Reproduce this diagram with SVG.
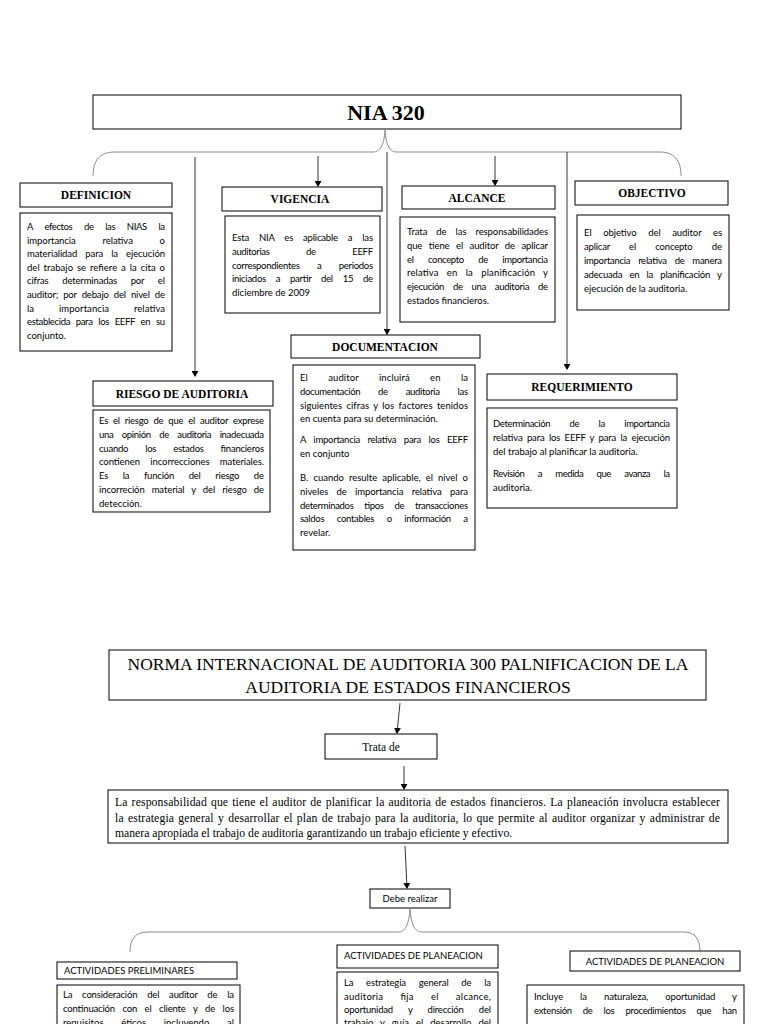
<svg xmlns="http://www.w3.org/2000/svg" width="768" height="1024" viewBox="0 0 768 1024">
<defs>
<marker id="ah" markerUnits="userSpaceOnUse" markerWidth="6" markerHeight="7" refX="5" refY="3.5" orient="auto">
<path d="M0,0 L6,3.5 L0,7 z" fill="#000"/>
</marker>
<style>
.box{fill:#fff;stroke:#000;stroke-width:1}
.hd{font-family:"Liberation Serif",serif;font-weight:bold;font-size:11.5px;text-anchor:middle;fill:#000}
.bt{font-family:Lato,"Liberation Sans",sans-serif;font-size:9.5px;fill:#000}
.r{text-anchor:end}
.m{text-anchor:middle}
.sr{font-family:"Liberation Serif",serif;fill:#000}
.br{fill:none;stroke:#8a8a8a;stroke-width:1}
.ar{fill:none;stroke:#000;stroke-width:0.8;marker-end:url(#ah)}
</style>
</defs>
<rect width="768" height="1024" fill="#fff"/>

<g id="connectors">
<path class="br" d="M93,176 C93,160 100,152 115,152 L373,152 C380,152 384,146 385,130 C386,146 390,152 397,152 L660,152 C674,152 681,160 681,176"/>
<path class="ar" d="M195,157 L195,376"/>
<path class="ar" d="M318,156 L318,186"/>
<path class="ar" d="M387,152 L387,334"/>
<path class="ar" d="M495,156 L495,185"/>
<path class="ar" d="M567,152 L567,369"/>
<path class="ar" d="M400,703 L397,733"/>
<path class="ar" d="M404,766 L404,789"/>
<path class="ar" d="M405,846 L407,888"/>
<path class="br" d="M130,952 C130,939 135,932 148,932 L398,932 C405,932 409,925 410,909 C411,925 415,932 422,932 L684,932 C695,932 700,939 700,952"/>
</g>

<g id="title">
<rect class="box" x="93" y="95" width="588" height="34"/>
<text x="386" y="120" font-family="Liberation Serif, serif" font-weight="bold" font-size="22" text-anchor="middle">NIA 320</text>
</g>

<g id="definicion">
<rect class="box" x="20" y="183" width="152" height="24"/>
<text class="hd" x="96" y="199" font-size="11">DEFINICION</text>
<rect class="box" x="20" y="213" width="152" height="138"/>
<g class="bt">
<text x="27" y="230" word-spacing="9.6" textLength="138">A efectos de las NIAS la</text>
<text x="27" y="243.6" word-spacing="24.4" textLength="138">importancia relativa o</text>
<text x="27" y="257.2" word-spacing="5.7" textLength="138">materialidad para la ejecución</text>
<text x="27" y="270.8" word-spacing="1.4" textLength="138">del trabajo se refiere a la cita o</text>
<text x="27" y="284.4" word-spacing="11.4" textLength="138">cifras determinadas por el</text>
<text x="27" y="298" word-spacing="2.7" textLength="138">auditor; por debajo del nivel de</text>
<text x="27" y="311.6" word-spacing="22.3" textLength="138">la importancia relativa</text>
<text x="27" y="325.2" word-spacing="3.6" textLength="138">establecida para los EEFF en su</text>
<text x="27" y="338.8">conjunto.</text>
</g>
</g>

<g id="vigencia">
<rect class="box" x="222" y="187" width="160" height="24"/>
<text class="hd" x="300" y="203" font-size="11">VIGENCIA</text>
<rect class="box" x="225" y="216" width="155" height="97"/>
<g class="bt">
<text x="232" y="241" word-spacing="7.6" textLength="141">Esta NIA es aplicable a las</text>
<text x="232" y="255" word-spacing="34.5" textLength="141">auditorias de EEFF</text>
<text x="232" y="268.6" word-spacing="15.2" textLength="141">correspondientes a periodos</text>
<text x="232" y="282.2" word-spacing="7.6" textLength="141">iniciados a partir del 15 de</text>
<text x="232" y="295.8">diciembre de 2009</text>
</g>
</g>

<g id="alcance">
<rect class="box" x="402" y="186" width="153" height="23"/>
<text class="hd" x="477" y="202">ALCANCE</text>
<rect class="box" x="400" y="217" width="155" height="105"/>
<g class="bt">
<text x="407" y="235" word-spacing="6.7" textLength="141">Trata de las responsabilidades</text>
<text x="407" y="248.8" word-spacing="4.2" textLength="141">que tiene el auditor de aplicar</text>
<text x="407" y="262.6" word-spacing="12.4" textLength="141">el concepto de importancia</text>
<text x="407" y="276.4" word-spacing="5.6" textLength="141">relativa en la planificación y</text>
<text x="407" y="290.2" word-spacing="6.7" textLength="141">ejecución de una auditoria de</text>
<text x="407" y="304">estados financieros.</text>
</g>
</g>

<g id="objetivo">
<rect class="box" x="575" y="181" width="153" height="24"/>
<text class="hd" x="652" y="197" font-size="12.5">OBJECTIVO</text>
<rect class="box" x="577" y="215" width="152" height="95"/>
<g class="bt">
<text x="584" y="236" word-spacing="9.2" textLength="138">El objetivo del auditor es</text>
<text x="584" y="250" word-spacing="17.1" textLength="138">aplicar el concepto de</text>
<text x="584" y="264" word-spacing="5.7" textLength="138">importancia relativa de manera</text>
<text x="584" y="278" word-spacing="4.9" textLength="138">adecuada en la planificación y</text>
<text x="584" y="292">ejecución de la auditoria.</text>
</g>
</g>

<g id="riesgo">
<rect class="box" x="93" y="381" width="180" height="25"/>
<text class="hd" x="182" y="398" font-size="12.3">RIESGO DE AUDITORIA</text>
<rect class="box" x="93" y="410" width="177" height="102"/>
<g class="bt">
<text x="99" y="424" word-spacing="2.8" textLength="165">Es el riesgo de que el auditor exprese</text>
<text x="99" y="437.8" word-spacing="6.3" textLength="165">una opinión de auditoria inadecuada</text>
<text x="99" y="451.6" word-spacing="14.7" textLength="165">cuando los estados financieros</text>
<text x="99" y="465.4" word-spacing="8" textLength="165">contienen incorrecciones materiales.</text>
<text x="99" y="479.2" word-spacing="12.4" textLength="165">Es la función del riesgo de</text>
<text x="99" y="493" word-spacing="4.7" textLength="165">incorreción material y del riesgo de</text>
<text x="99" y="506.8">detección.</text>
</g>
</g>

<g id="documentacion">
<rect class="box" x="291" y="335" width="189" height="23"/>
<text class="hd" x="385" y="351" font-size="12">DOCUMENTACION</text>
<rect class="box" x="293" y="365" width="182" height="185"/>
<g class="bt">
<text x="300" y="381" word-spacing="17.7" textLength="168">El auditor incluirá en la</text>
<text x="300" y="394.8" word-spacing="15.7" textLength="168">documentación de auditoria las</text>
<text x="300" y="408.6" word-spacing="1.9" textLength="168">siguientes cifras y los factores tenidos</text>
<text x="300" y="422.4">en cuenta para su determinación.</text>
<text x="300" y="443" word-spacing="5.3" textLength="168">A importancia relativa para los EEFF</text>
<text x="300" y="456.8">en conjunto</text>
<text x="300" y="481" word-spacing="2.7" textLength="168">B. cuando resulte aplicable, el nivel o</text>
<text x="300" y="494.8" word-spacing="6" textLength="168">niveles de importancia relativa para</text>
<text x="300" y="508.6" word-spacing="8.6" textLength="168">determinados tipos de transacciones</text>
<text x="300" y="522.4" word-spacing="10.3" textLength="168">saldos contables o información a</text>
<text x="300" y="536.2">revelar.</text>
</g>
</g>

<g id="requerimiento">
<rect class="box" x="487" y="374" width="190" height="26"/>
<text class="hd" x="582" y="391" font-size="12.4">REQUERIMIENTO</text>
<rect class="box" x="487" y="408" width="190" height="100"/>
<g class="bt">
<text x="493" y="427" word-spacing="17.3" textLength="177">Determinación de la importancia</text>
<text x="493" y="440.8" word-spacing="2.1" textLength="177">relativa para los EEFF y para la ejecución</text>
<text x="493" y="454.6">del trabajo al planificar la auditoria.</text>
<text x="493" y="477" word-spacing="11.4" textLength="177">Revisión a medida que avanza la</text>
<text x="493" y="490.8">auditoria.</text>
</g>
</g>

<g id="norma">
<rect class="box" x="109" y="650" width="597" height="50"/>
<text class="sr" x="408" y="670" font-size="17.5" text-anchor="middle">NORMA INTERNACIONAL DE AUDITORIA 300 PALNIFICACION DE LA</text>
<text class="sr" x="408" y="693" font-size="17.5" text-anchor="middle">AUDITORIA DE ESTADOS FINANCIEROS</text>
</g>

<g id="trata-de">
<rect class="box" x="325" y="734" width="112" height="25"/>
<text class="sr" x="381" y="750.5" font-size="11.5" text-anchor="middle">Trata de</text>
</g>

<g id="responsabilidad">
<rect class="box" x="108" y="790" width="620" height="53"/>
<text class="sr" x="115" y="806" font-size="11.7" word-spacing="1" textLength="605">La responsabilidad que tiene el auditor de planificar la auditoria de estados financieros. La planeación involucra establecer</text>
<text class="sr" x="115" y="821.5" font-size="11.7" word-spacing="1.2" textLength="605">la estrategia general y desarrollar el plan de trabajo para la auditoria, lo que permite al auditor organizar y administrar de</text>
<text class="sr" x="115" y="837" font-size="11.7">manera apropiada el trabajo de auditoria garantizando un trabajo eficiente y efectivo.</text>
</g>

<g id="debe-realizar">
<rect class="box" x="370" y="889" width="80" height="19"/>
<text class="bt m" x="410" y="902" font-size="8.5">Debe realizar</text>
</g>

<g id="act-preliminares">
<rect class="box" x="57" y="962" width="180" height="17"/>
<text class="bt" x="64" y="974" font-size="8.7">ACTIVIDADES PRELIMINARES</text>
<rect class="box" x="57" y="985" width="183" height="50"/>
<g class="bt">
<text x="63" y="998" word-spacing="7.6" textLength="171">La consideración del auditor de la</text>
<text x="63" y="1012" word-spacing="5.3" textLength="171">continuación con el cliente y de los</text>
<text x="63" y="1025.5" word-spacing="15.3" textLength="171">requisitos éticos incluyendo al</text>
</g>
</g>

<g id="act-planeacion-1">
<rect class="box" x="337" y="945" width="161" height="23"/>
<text class="bt" x="344" y="959" font-size="8.7">ACTIVIDADES DE PLANEACION</text>
<rect class="box" x="337" y="972" width="161" height="60"/>
<g class="bt">
<text x="344" y="986" word-spacing="10.4" textLength="147">La estrategia general de la</text>
<text x="344" y="999.5" word-spacing="14.4" textLength="147">auditoria fija el alcance,</text>
<text x="344" y="1013" word-spacing="13" textLength="147">oportunidad y dirección del</text>
<text x="344" y="1026" word-spacing="4.5" textLength="147">trabajo y guía el desarrollo del</text>
</g>
</g>

<g id="act-planeacion-2">
<rect class="box" x="570" y="951" width="170" height="20"/>
<text class="bt m" x="655" y="964.5" font-size="8.7">ACTIVIDADES DE PLANEACION</text>
<rect class="box" x="527" y="985" width="217" height="50"/>
<g class="bt">
<text x="534" y="1000" word-spacing="14.7" textLength="203">Incluye la naturaleza, oportunidad y</text>
<text x="534" y="1014" word-spacing="8.9" textLength="203">extensión de los procedimientos que han</text>
</g>
</g>
</svg>
